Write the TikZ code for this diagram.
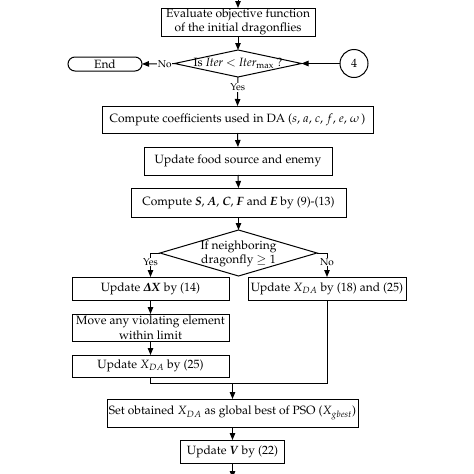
\documentclass[tikz,border=0pt]{standalone}
\usepackage[T1]{fontenc}
\usepackage[slantedGreek]{mathpazo}
\usetikzlibrary{arrows.meta,shapes.geometric}
\tikzset{
  box/.style={draw, rectangle, inner sep=0pt, outer sep=0pt, align=center, font=\fontsize{12}{14.5}\selectfont},
  dia/.style={draw, diamond, inner sep=0pt, outer sep=0pt},
  dtext/.style={inner sep=0pt, align=center, font=\fontsize{12}{14.5}\selectfont},
  arr/.style={-{Triangle[length=7pt,width=5.5pt]}},
  lab/.style={fill=white, inner sep=0.8pt, font=\fontsize{10}{12}\selectfont},
}
\begin{document}
\begin{tikzpicture}[x=1pt, y=-1pt, line width=1pt]
\useasboundingbox (0,0) rectangle (474,474);
\coordinate (top) at (238,0);
\node[box, minimum width=154pt, minimum height=28pt] (eval) at (238,22) {Evaluate objective function\\of the initial dragonflies};
\node[dia, minimum width=127pt, minimum height=27pt] (d1) at (238,63.5) {};
\node[dtext] (d1t) at (238,63.5) {Is \textit{Iter} $<$ \textit{Iter}\textsubscript{max} ?};
\node[box, rounded corners=7pt, minimum width=74pt, minimum height=14pt] (end) at (105,64) {End};
\node[box, circle, minimum size=28pt] (four) at (354,63.5) {4};
\node[box, minimum width=271pt, minimum height=27pt] (coef) at (237.5,119.5) {Compute coefficients used in DA ($s$, $a$, $c$, $f$, $e$, $\omega$\,)};
\node[box, minimum width=188pt, minimum height=28pt] (food) at (238,161) {Update food source and enemy};
\node[box, minimum width=215pt, minimum height=29pt] (comp) at (238.5,202.5) {Compute \textbf{\textit{S}}, \textbf{\textit{A}}, \textbf{\textit{C}}, \textbf{\textit{F}} and \textbf{\textit{E}} by (9)-(13)};
\node[dia, minimum width=157pt, minimum height=46pt] (d2) at (238.5,253) {};
\node[dtext] (d2t) at (238.5,254) {If neighboring\\dragonfly $\geq 1$};
\node[box, minimum width=157pt, minimum height=23pt] (dx) at (150.5,288.5) {Update {\boldmath$\Delta X$} by (14)};
\node[box, minimum width=158pt, minimum height=23pt] (xda1) at (327,288.5) {Update $X_{DA}$ by (18) and (25)};
\node[box, minimum width=157pt, minimum height=27pt] (move) at (150.5,327.5) {Move any violating element\\within limit};
\node[box, minimum width=157pt, minimum height=22pt] (xda2) at (150.5,366) {Update $X_{DA}$ by (25)};
\coordinate (m) at (232.5,383);
\node[box, minimum width=251pt, minimum height=28pt] (set) at (232.5,413) {Set obtained $X_{DA}$ as global best of PSO ($X_{gbest}$)};
\node[box, minimum width=104pt, minimum height=23pt] (upv) at (232.5,451.5) {Update {\boldmath$V$} by (22)};
\coordinate (bot) at (232.5,478);

\draw[arr] (top) -- (eval.north);
\draw[arr] (eval.south) -- (d1.north);
\draw[arr] (d1.west) -- node[lab, pos=0.3]{No} (end.east);
\draw[arr] (four.west) -- (d1.east);
\draw[arr] (d1.south) -- node[lab, pos=0.35]{Yes} (coef.north);
\draw[arr] (coef.south) -- (food.north);
\draw[arr] (food.south) -- (comp.north);
\draw[arr] (comp.south) -- (d2.north);
\draw[arr] (d2.west) -| node[lab, pos=0.69]{Yes} (dx.north);
\draw[arr] (d2.east) -| node[lab, pos=0.69]{No} (xda1.north);
\draw[arr] (dx.south) -- (move.north);
\draw[arr] (move.south) -- (xda2.north);
\draw (xda2.south) |- (xda1.south |- m) -- (xda1.south);
\draw[arr] (m) -- (set.north);
\draw[arr] (set.south) -- (upv.north);
\draw[arr] (upv.south) -- (bot);
\end{tikzpicture}
\end{document}
